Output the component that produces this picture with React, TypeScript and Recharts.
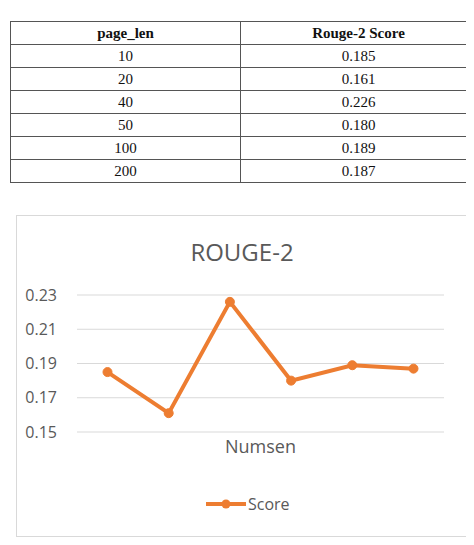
import React from 'react';
import { LineChart, Line, XAxis, YAxis, CartesianGrid } from 'recharts';

const pageLens = ['10', '20', '40', '50', '100', '200'];
const scores = [0.185, 0.161, 0.226, 0.18, 0.189, 0.187];
const scoreLabels = ['0.185', '0.161', '0.226', '0.180', '0.189', '0.187'];
const yTicks = [0.15, 0.17, 0.19, 0.21, 0.23];
const chartTitle = 'ROUGE-2';
const xTitle = 'Numsen';
const seriesName = 'Score';

const data = pageLens.map((p, i) => ({ name: p, Score: scores[i] }));

const ORANGE = '#ED7D31';
const GREY = '#595959';
const SANS = '"Open Sans", sans-serif';
const SERIF = '"Liberation Serif", "Times New Roman", serif';

const cellStyle: React.CSSProperties = {
  border: '1px solid #555',
  textAlign: 'center',
  height: 22,
  padding: 0,
  fontFamily: SERIF,
  fontSize: 15,
  color: '#111',
};

export default function App() {
  return (
    <div
      style={{
        position: 'relative',
        width: 474,
        height: 545,
        marginLeft: -8,
        marginTop: -8,
        overflow: 'hidden',
        background: '#fff',
      }}
    >
      <table
        style={{
          position: 'absolute',
          left: 10,
          top: 21,
          borderCollapse: 'collapse',
          width: 466,
          tableLayout: 'fixed',
        }}
      >
        <colgroup>
          <col style={{ width: 230 }} />
          <col style={{ width: 236 }} />
        </colgroup>
        <thead>
          <tr>
            <th style={{ ...cellStyle, fontWeight: 'bold' }}>page_len</th>
            <th style={{ ...cellStyle, fontWeight: 'bold' }}>Rouge-2 Score</th>
          </tr>
        </thead>
        <tbody>
          {pageLens.map((p, i) => (
            <tr key={p}>
              <td style={cellStyle}>{p}</td>
              <td style={cellStyle}>{scoreLabels[i]}</td>
            </tr>
          ))}
        </tbody>
      </table>

      <div
        style={{
          position: 'absolute',
          left: 16,
          top: 215,
          width: 452,
          height: 322,
          border: '1px solid #d9d9d9',
          boxSizing: 'border-box',
          background: '#fff',
        }}
      >
        <div
          style={{
            position: 'absolute',
            left: 0,
            width: 450,
            top: 21,
            textAlign: 'center',
            fontFamily: SANS,
            fontSize: 24,
            color: GREY,
            lineHeight: '30px',
          }}
        >
          {chartTitle}
        </div>
        <LineChart
          width={450}
          height={320}
          data={data}
          margin={{ top: 79, right: 23, left: 0, bottom: 0 }}
        >
          <CartesianGrid vertical={false} stroke="#d9d9d9" strokeWidth={1} />
          <XAxis
            dataKey="name"
            tick={false}
            tickLine={false}
            axisLine={false}
            height={104}
            padding={{ left: 30.5, right: 30.5 }}
            label={{
              value: xTitle,
              position: 'insideTop',
              offset: 8,
              fill: GREY,
              fontSize: 18,
              fontFamily: SANS,
            }}
          />
          <YAxis
            width={60}
            domain={[0.15, 0.23]}
            ticks={yTicks}
            tickFormatter={(v: number) => v.toFixed(2)}
            tick={{ fill: GREY, fontSize: 16, fontFamily: SANS }}
            tickLine={false}
            axisLine={false}
            tickMargin={14}
          />
          <Line
            type="linear"
            dataKey="Score"
            stroke={ORANGE}
            strokeWidth={4}
            dot={{ r: 4.5, fill: ORANGE, stroke: ORANGE, strokeWidth: 1 }}
            isAnimationActive={false}
          />
        </LineChart>
        <div
          style={{
            position: 'absolute',
            left: 189,
            top: 277,
            display: 'flex',
            alignItems: 'center',
            fontFamily: SANS,
            fontSize: 16,
            color: GREY,
          }}
        >
          <svg width={40} height={12} style={{ marginRight: 2 }}>
            <line x1={0} y1={6} x2={40} y2={6} stroke={ORANGE} strokeWidth={4} />
            <circle cx={20} cy={6} r={4.5} fill={ORANGE} />
          </svg>
          <span>{seriesName}</span>
        </div>
      </div>
    </div>
  );
}
